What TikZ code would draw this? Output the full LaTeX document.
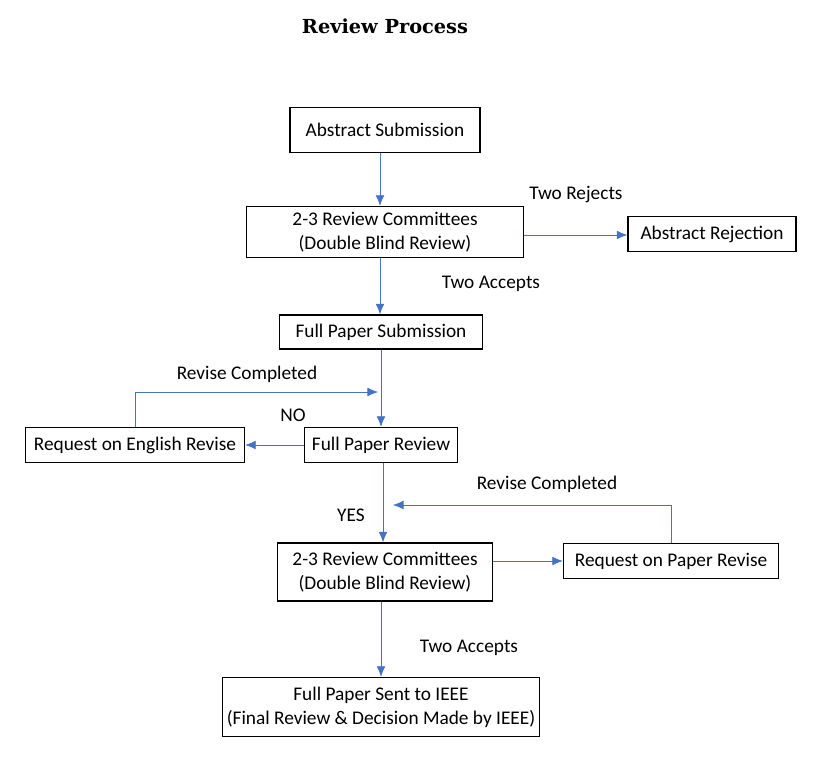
\documentclass[tikz,border=0pt]{standalone}
\usepackage{fontspec}
\setmainfont{Carlito}
\newfontfamily\titrefont{DejaVu Serif}
\usetikzlibrary{arrows.meta}
\begin{document}
\begin{tikzpicture}[x=0.02cm,y=-0.02cm]
% Styles
\tikzset{boite/.style={draw,thick,align=center,inner sep=0pt,font=\fontsize{11}{13.5}\selectfont}}
\tikzset{fleche/.style={-{Latex[length=6pt,width=5pt]},draw={rgb,255:red,68;green,114;blue,196}}}
\tikzset{etiquette/.style={font=\fontsize{11}{13.5}\selectfont}}
\useasboundingbox (0,0) rectangle (814,770);
% Titre
\node[font=\titrefont\bfseries\fontsize{11}{13}\selectfont] (titre) at (385,26) {Review Process};
% Noeuds
\node[boite,minimum width=3.8cm,minimum height=0.9cm] (AS) at (385,130) {Abstract Submission};
\node[boite,minimum width=5.54cm,minimum height=1.02cm] (RC) at (385,232) {2-3 Review Committees\\(Double Blind Review)};
\node[boite,minimum width=3.36cm,minimum height=0.7cm] (AR) at (712,234) {Abstract Rejection};
\node[boite,minimum width=4.06cm,minimum height=0.68cm] (FPS) at (381,332) {Full Paper Submission};
\node[boite,minimum width=4.38cm,minimum height=0.7cm] (ER) at (135,445) {Request on English Revise};
\node[boite,minimum width=3.06cm,minimum height=0.7cm] (FPR) at (381,445) {Full Paper Review};
\node[boite,minimum width=4.3cm,minimum height=1.16cm] (RC2) at (385,572) {2-3 Review Committees\\(Double Blind Review)};
\node[boite,minimum width=4.3cm,minimum height=0.7cm] (PR) at (671,561) {Request on Paper Revise};
\node[boite,minimum width=6.34cm,minimum height=1.18cm] (FS) at (381,707) {Full Paper Sent to IEEE\\(Final Review \& Decision Made by IEEE)};
% Etiquettes
\node[etiquette] (l1) at (576,195) {Two Rejects};
\node[etiquette] (l2) at (491,284) {Two Accepts};
\node[etiquette] (l3) at (247,374) {Revise Completed};
\node[etiquette] (l4) at (293,415) {NO};
\node[etiquette] (l5) at (351,515) {YES};
\node[etiquette] (l6) at (547,484) {Revise Completed};
\node[etiquette] (l7) at (469,648) {Two Accepts};
% Points
\coordinate (c1) at (378,392);
\coordinate (c2) at (393,505);
% Arcs
\draw[fleche] (AS.south -| 380,0) -- (RC.north -| 380,0);
\draw[fleche] (RC.east |- 0,235) -- (AR.west |- 0,235);
\draw[fleche] (RC.south -| 380,0) -- (FPS.north -| 380,0);
\draw[fleche] (FPS.south) -- (FPR.north);
\draw[fleche] (FPR.west) -- (ER.east);
\draw[fleche] (ER.north) |- (c1);
\draw[fleche] (FPR.south -| 383,0) -- (RC2.north -| 383,0);
\draw[fleche] (RC2.east |- PR.west) -- (PR.west);
\draw[fleche] (PR.north) |- (c2);
\draw[fleche] (RC2.south -| 381,0) -- (FS.north -| 381,0);
\end{tikzpicture}
\end{document}
